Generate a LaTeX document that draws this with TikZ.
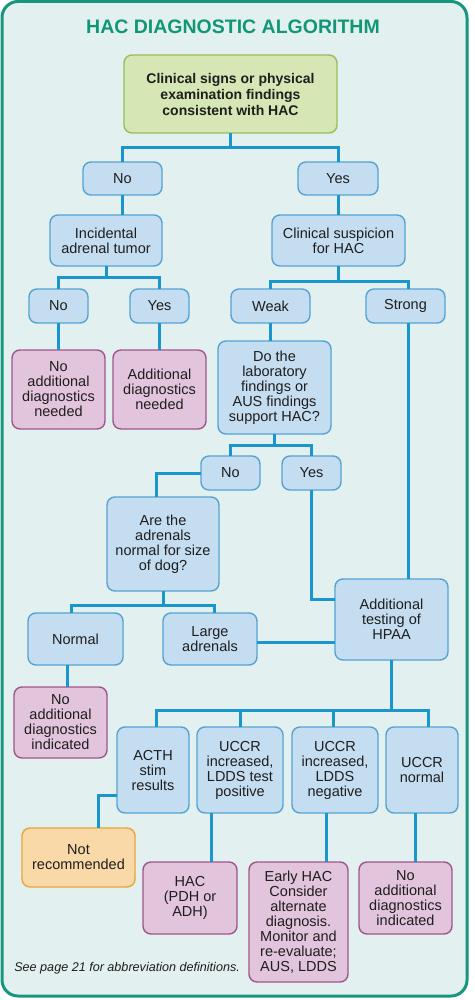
\documentclass[tikz,border=0pt]{standalone}
\usepackage{fontspec}
\setmainfont{Liberation Sans}
\usepackage{tikz}

\definecolor{bgteal}{RGB}{226,240,239}
\definecolor{frameteal}{RGB}{22,150,125}
\definecolor{titleteal}{RGB}{17,150,120}
\definecolor{boxfill}{RGB}{197,221,240}
\definecolor{boxline}{RGB}{85,163,213}
\definecolor{connblue}{RGB}{25,150,205}
\definecolor{purpfill}{RGB}{226,196,221}
\definecolor{purpline}{RGB}{160,85,140}
\definecolor{orfill}{RGB}{250,217,168}
\definecolor{orline}{RGB}{232,165,60}
\definecolor{grfill}{RGB}{214,230,180}
\definecolor{grline}{RGB}{150,190,95}
\definecolor{textcol}{RGB}{30,30,30}

\begin{document}
\begin{tikzpicture}[x=1pt, y=-1pt, outer sep=0pt]

\tikzstyle{box}=[draw=boxline, fill=boxfill, rounded corners=8pt, line width=1.4pt, align=center, anchor=north west, inner sep=2pt, text=textcol, font=\fontsize{14.5}{15}\selectfont]
\tikzstyle{result}=[box, draw=purpline, fill=purpfill]
\tikzstyle{warn}=[box, draw=orline, fill=orfill]
\tikzstyle{start}=[box, draw=grline, fill=grfill, font=\fontsize{14}{16}\selectfont\bfseries]
\tikzstyle{conn}=[draw=connblue, line width=3pt]

\useasboundingbox (0,0) rectangle (474,1000);
\fill[white] (0,0) rectangle (474,1000);
\draw[frameteal, fill=bgteal, line width=3pt, rounded corners=16pt] (2,1.5) rectangle (467,996);

\node[text=titleteal, font=\fontsize{19.5}{20}\selectfont\bfseries] (title) at (233,27) {HAC DIAGNOSTIC ALGORITHM};

% first levels
\node[start, minimum width=213, minimum height=78] (top) at (124,55) {Clinical signs or physical\\examination findings\\consistent with HAC};
\node[box, minimum width=79, minimum height=33] (no1) at (83,162) {No}; \node[box, minimum width=80, minimum height=33] (yes1) at (298,162) {Yes};
\node[box, minimum width=112, minimum height=51] (inc) at (50,215) {Incidental\\adrenal tumor}; \node[box, minimum width=133, minimum height=51] (susp) at (272,215) {Clinical suspicion\\for HAC};
\node[box, minimum width=59, minimum height=34] (no2) at (29,289) {No}; \node[box, minimum width=59, minimum height=34] (yes2) at (130,289) {Yes};
\node[box, minimum width=79, minimum height=34] (weak) at (231,289) {Weak}; \node[box, minimum width=79, minimum height=34] (strong) at (366,289) {Strong};
\node[result, minimum width=93, minimum height=79] (noneedA) at (12,350) {No\\additional\\diagnostics\\needed};
\node[result, minimum width=93, minimum height=79] (needed) at (113,350) {Additional\\diagnostics\\needed};

% weak branch
\node[box, minimum width=113, minimum height=93] (quest) at (218,341) {Do the\\laboratory\\findings or\\AUS findings\\support HAC?};
\node[box, minimum width=59, minimum height=34] (no3) at (201,456) {No}; \node[box, minimum width=59, minimum height=34] (yes3) at (282,456) {Yes};
\node[box, minimum width=112, minimum height=94] (adr) at (107,497) {Are the\\adrenals\\normal for size\\of dog?};
\node[box, minimum width=113, minimum height=81] (hpaa) at (335,579) {Additional\\testing of\\HPAA};
\node[box, minimum width=95, minimum height=52] (normal) at (28,613) {Normal}; \node[box, minimum width=94, minimum height=52] (large) at (163,613) {Large\\adrenals};
\node[result, minimum width=93, minimum height=71] (noneedB) at (14,687) {No\\additional\\diagnostics\\indicated};

% tests
\node[box, minimum width=72, minimum height=86] (acth) at (117,727) {ACTH\\stim\\results};
\node[box, minimum width=86, minimum height=86] (pos) at (197,727) {UCCR\\increased,\\LDDS test\\positive};
\node[box, minimum width=86, minimum height=86] (neg) at (292,727) {UCCR\\increased,\\LDDS\\negative};
\node[box, minimum width=72, minimum height=86] (uccrn) at (386,727) {UCCR\\normal};
\node[warn, minimum width=113, minimum height=59] (notrec) at (22,828) {Not\\recommended};
\node[result, minimum width=94, minimum height=72] (hac) at (143,862) {HAC\\(PDH or\\ADH)};
\node[result, minimum width=99, minimum height=120] (early) at (249,862) {Early HAC\\Consider\\alternate\\diagnosis.\\Monitor and\\re-evaluate;\\AUS, LDDS};
\node[result, minimum width=93, minimum height=72] (noneedC) at (359,862) {No\\additional\\diagnostics\\indicated};

\node[anchor=west, text=textcol, font=\fontsize{12.6}{14}\selectfont\itshape] (note) at (11,968) {See page 21 for abbreviation definitions.};

% connectors
\draw[conn] (top.south) -- ++(0,15) -| (no1.north); \draw[conn] (top.south) -- ++(0,15) -| (yes1.north);
\draw[conn] (no1.south) -- (no1.south |- inc.north); \draw[conn] (yes1.south) -- (yes1.south |- susp.north);
\draw[conn] (inc.south) -- ++(0,11) -| (no2.north); \draw[conn] (inc.south) -- ++(0,11) -| (yes2.north);
\draw[conn] (no2.south) -- (noneedA.north); \draw[conn] (yes2.south) -- (needed.north);
\draw[conn] (susp.south) -- ++(0,15) -| (weak.north); \draw[conn] (susp.south) -- ++(0,15) -| ([xshift=3pt]strong.north);
\draw[conn] (weak.south) -- (weak.south |- quest.north);
\draw[conn] (quest.south) -- ++(0,11) -| (no3.north); \draw[conn] (quest.south) -- ++(0,11) -| (yes3.north);
\draw[conn] (no3.west) -| ([xshift=-7pt]adr.north);
\draw[conn] (yes3.south) |- ([yshift=20pt]hpaa.west);
\draw[conn] ([xshift=3pt]strong.south) -- ([xshift=3pt]strong.south |- hpaa.north);
\draw[conn] (adr.south) -- ++(0,14) -| ([xshift=-4pt]normal.north); \draw[conn] (adr.south) -- ++(0,14) -| ([xshift=4pt]large.north);
\draw[conn] ([yshift=-3pt]large.east) -- ([yshift=-3pt]large.east -| hpaa.west);
\draw[conn] ([xshift=-8pt]normal.south) -- ([xshift=-8pt]normal.south |- noneedB.north);
\draw[conn] (hpaa.south) -- ++(0,50) -| ([xshift=3pt]acth.north); \draw[conn] (hpaa.south) -- ++(0,50) -| (pos.north);
\draw[conn] (hpaa.south) -- ++(0,50) -| ([xshift=-2pt]neg.north); \draw[conn] (hpaa.south) -- ++(0,50) -| ([xshift=6pt]uccrn.north);
\draw[conn] ([yshift=-25pt]acth.west) -| ([xshift=20pt]notrec.north);
\draw[conn] ([xshift=-29pt]pos.south) -- ([xshift=-29pt]pos.south |- hac.north);
\draw[conn] ([xshift=-9pt]neg.south) -- ([xshift=-9pt]neg.south |- early.north);
\draw[conn] ([xshift=-7pt]uccrn.south) -- ([xshift=-7pt]uccrn.south |- noneedC.north);

\end{tikzpicture}
\end{document}
